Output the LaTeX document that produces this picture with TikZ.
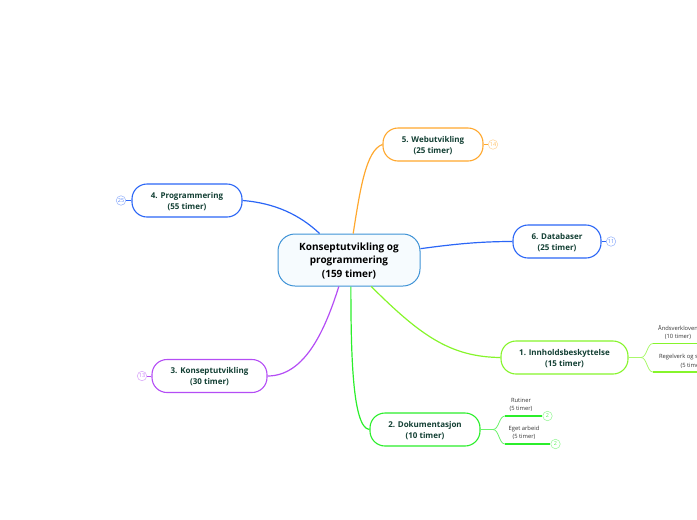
\documentclass[tikz,border=0pt]{standalone}
\usepackage{fontspec}
\setmainfont{Open Sans}
\definecolor{rootblue}{HTML}{3F93D6}
\definecolor{rootfill}{HTML}{F6FBFE}
\definecolor{webcol}{HTML}{FFA82E}
\definecolor{blucol}{HTML}{2B66F6}
\definecolor{purcol}{HTML}{B44DF5}
\definecolor{limecol}{HTML}{86F52B}
\definecolor{grncol}{HTML}{2BEE2B}
\definecolor{topictext}{HTML}{123F33}
\definecolor{subtext}{HTML}{333333}

\begin{document}
\begin{tikzpicture}[x=1pt,y=-1pt,
   roottopic/.style={draw=rootblue, fill=rootfill, line width=1pt, rounded corners=17pt, minimum width=142pt, minimum height=52pt, inner sep=0pt, align=center, text depth=0pt, font=\fontsize{10}{13.6}\selectfont\bfseries},
   topic/.style={draw=#1, line width=1.1pt, fill=white, rounded corners=15pt, minimum height=33pt, inner sep=0pt, align=center, text=topictext, text depth=0pt, font=\fontsize{8}{11}\selectfont\bfseries},
   badge/.style={draw=#1!45, text=#1!75, circle, line width=0.6pt, minimum size=9.5pt, inner sep=0pt, font=\fontsize{5.5}{6}\selectfont},
   subtopic/.style={align=center, text=subtext, font=\fontsize{5.8}{8.5}\selectfont},
   branch/.style={draw=#1, line width=1.2pt},
   stub/.style={draw=#1, line width=0.7pt},
   fork/.style={draw=#1!70, line width=0.8pt},
   ruling/.style={draw=#1, line width=1.3pt}
]
\useasboundingbox (0,0) rectangle (697,520);

%main nodes
\node[roottopic] (root) at (349,260) {Konseptutvikling og\\programmering\\(159 timer)};
\node[topic=webcol, minimum width=100pt] (web) at (433,144.5) {5. Webutvikling\\(25 timer)};
\node[topic=blucol, minimum width=88pt] (data) at (557,241.5) {6. Databaser\\(25 timer)};
\node[topic=blucol, minimum width=110pt] (prog) at (187,200.5) {4. Programmering\\(55 timer)};
\node[topic=purcol, minimum width=115pt] (kons) at (209.5,376) {3. Konseptutvikling\\(30 timer)};
\node[topic=limecol, minimum width=127pt] (innh) at (564.5,357.5) {1. Innholdsbeskyttelse\\(15 timer)};
\node[topic=grncol, minimum width=110pt] (doku) at (425,429.5) {2. Dokumentasjon\\(10 timer)};

%counters
\node[badge=webcol] (webnum) at (493,144.5) {14};
\node[badge=blucol] (datanum) at (611,241.5) {11};
\node[badge=blucol] (prognum) at (121,200.5) {25};
\node[badge=purcol] (konsnum) at (142,376) {13};

%branches from the root
\draw[branch=webcol] (root.81) .. controls (360,190) and (366,150) .. (web.west);
\draw[branch=blucol] (root.9) .. controls (455,244) and (480,241.5) .. (data.west);
\draw[branch=blucol] (root.138) .. controls (300,215) and (275,203) .. (prog.east);
\draw[branch=purcol] (root.-111) .. controls (325,330) and (305,376) .. (kons.east);
\draw[branch=limecol] (root.-50) .. controls (420,335) and (450,357) .. (innh.west);
\draw[branch=grncol] (root.-86) .. controls (351,350) and (352,428) .. (doku.west);

%stubs to the counters
\draw[stub=webcol] (web) -- (webnum);
\draw[stub=blucol] (data) -- (datanum);
\draw[stub=blucol] (prog) -- (prognum);
\draw[stub=purcol] (kons) -- (konsnum);

%subtopics of 2
\node[subtopic] (ruti) at (521,405) {Rutiner\\(5 timer)};
\node[subtopic] (eget) at (524,432.5) {Eget arbeid\\(5 timer)};
\node[badge=grncol] (rutinum) at (547.5,416) {2};
\node[badge=grncol] (egetnum) at (555.5,444) {2};
\coordinate (dokufork) at (493,429.5);
\coordinate (rutistart) at (505,416);
\coordinate (egetstart) at (505,444);
\draw[fork=grncol] (doku.east) -- (dokufork) .. controls (499,429.5) and (499,416) .. (rutistart);
\draw[fork=grncol] (dokufork) .. controls (499,429.5) and (499,444) .. (egetstart);
\draw[ruling=grncol] (rutistart) -- (rutinum);
\draw[ruling=grncol] (egetstart) -- (egetnum);

%subtopics of 1, cut by the edge
\node[subtopic] (ands) at (678,332.5) {Åndsverkloven\\(10 timer)};
\node[subtopic] (rege) at (692,361) {Regelverk og standarder\\(5 timer)};
\coordinate (innhfork) at (641,357.5);
\coordinate (andsstart) at (653,343.5);
\coordinate (regestart) at (653,372);
\coordinate (andsend) at (697,343.5);
\coordinate (regeend) at (697,372);
\draw[fork=limecol] (innh.east) -- (innhfork) .. controls (647,357.5) and (647,343.5) .. (andsstart);
\draw[fork=limecol] (innhfork) .. controls (647,357.5) and (647,372) .. (regestart);
\draw[ruling=limecol] (andsstart) -- (andsend);
\draw[ruling=limecol] (regestart) -- (regeend);
\end{tikzpicture}
\end{document}
